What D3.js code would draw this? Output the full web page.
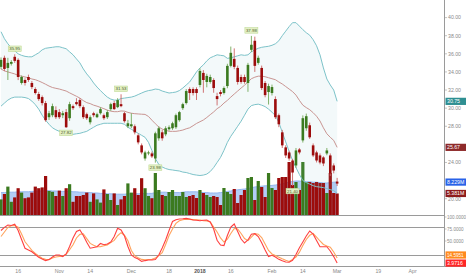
<!DOCTYPE html>
<html lang="en">
<head>
<meta charset="utf-8">
<title>Daily candles with Bollinger bands, volume and stochastic</title>
<script src="https://d3js.org/d3.v7.min.js"></script>
<style>
    body { margin: 0; background: #fff; }
    svg { display: block; font-family: "Liberation Sans", Arial, sans-serif; }
</style>
</head>
<body>
<svg id="chart" width="466" height="275"></svg>
<script>
// bar index 0 = first visible session (Oct 9 2017), future bars keep counting weekdays
const tickIndex = [5, 17, 26, 38, 49, 58, 67, 79, 88, 98, 110, 120]
const tickLabels = ["16", "Nov", "14", "Dec", "18", "2018", "16", "Feb", "14", "Mar", "19", "Apr"]

const opens = [34.56, 35.56, 34.44, 34.9, 35.67, 35.33, 32.78, 33.11, 33.44, 32.78,
    32.11, 31.56, 31.22, 30.56, 29.0, 29.22, 29.78, 29.56, 29.22, 29.56,
    28.89, 30.22, 30.67, 30.89, 30.11, 29.33, 28.44, 29.44, 29.0, 29.44,
    29.22, 29.0, 29.89, 30.56, 30.11, 30.44, 29.44, 28.0, 28.0, 28.0,
    27.0, 25.89, 24.44, 25.0, 25.0, 24.44, 26.67, 27.33, 27.11, 27.67,
    27.78, 27.89, 28.67, 30.0, 30.56, 32.11, 32.11, 32.11, 32.56, 33.89,
    32.89, 32.89, 33.11, 31.33, 31.78, 31.67, 32.44, 34.67, 35.44, 34.44,
    33.44, 33.44, 32.78, 36.44, 37.44, 35.0, 34.44, 32.78, 31.78, 31.67,
    31.0, 29.22, 27.33, 25.67, 25.11, 24.22, 23.67, 25.44, 26.44, 27.78,
    28.11, 25.89, 25.11, 24.78, 24.56, 25.0, 24.78, 23.67, 21.89]
const highs = [35.6, 35.8, 35.56, 35.3, 35.95, 35.5, 33.6, 33.3, 33.7, 33.0,
    32.3, 31.8, 31.4, 30.8, 29.7, 30.5, 30.2, 29.9, 29.7, 29.9,
    30.7, 30.4, 31.1, 31.1, 30.3, 29.5, 29.2, 29.6, 29.5, 30.1,
    29.4, 29.8, 30.6, 30.8, 31.1, 31.53, 29.6, 28.7, 29.44, 28.2,
    27.2, 26.1, 25.3, 25.3, 25.2, 27.4, 28.0, 27.6, 28.0, 28.1,
    28.5, 29.4, 29.7, 30.6, 32.1, 32.3, 32.3, 32.3, 34.4, 34.2,
    33.8, 33.7, 33.3, 31.7, 32.0, 32.4, 34.9, 36.8, 36.6, 34.7,
    33.7, 33.7, 35.0, 37.98, 37.9, 35.8, 34.7, 33.0, 32.7, 32.6,
    31.3, 29.4, 27.6, 25.9, 25.3, 24.4, 25.6, 25.6, 29.2, 29.4,
    28.4, 26.1, 25.3, 25.0, 24.7, 25.6, 25.0, 23.9, 22.3]
const lows = [34.3, 34.1, 33.11, 34.7, 35.0, 33.1, 32.6, 32.5, 32.9, 32.1,
    31.5, 30.8, 30.3, 28.5, 28.7, 29.0, 28.8, 28.8, 28.9, 27.82,
    28.6, 29.8, 30.3, 30.0, 28.8, 28.7, 28.2, 29.0, 28.9, 29.3,
    28.7, 28.8, 29.7, 29.8, 30.0, 30.1, 28.4, 27.8, 27.8, 27.1,
    26.0, 24.9, 24.2, 24.8, 24.5, 23.98, 26.4, 26.4, 26.9, 27.5,
    27.6, 27.7, 28.5, 29.8, 30.4, 30.9, 31.4, 30.9, 32.3, 31.7,
    32.3, 32.7, 31.7, 30.3, 31.3, 31.5, 32.2, 34.5, 34.3, 32.6,
    32.7, 32.7, 31.8, 36.2, 34.0, 34.8, 32.0, 31.2, 30.4, 31.4,
    28.8, 27.9, 25.6, 24.5, 24.2, 21.4, 23.4, 24.9, 26.2, 27.5,
    26.6, 24.6, 24.0, 23.8, 23.6, 24.8, 22.5, 22.8, 21.4]
const closes = [35.33, 34.33, 35.0, 35.1, 35.22, 33.44, 33.44, 32.78, 33.11, 32.33,
    31.67, 31.0, 30.56, 28.67, 29.44, 30.22, 29.0, 29.0, 29.44, 27.89,
    30.44, 30.0, 30.44, 30.22, 29.0, 28.89, 29.0, 29.22, 29.33, 29.89,
    28.89, 29.56, 30.44, 29.89, 30.89, 30.22, 28.56, 28.33, 28.22, 27.33,
    26.22, 25.11, 25.11, 25.11, 24.67, 27.22, 27.78, 26.67, 27.78, 27.89,
    28.33, 29.22, 29.56, 30.44, 31.89, 31.67, 31.67, 31.67, 34.11, 33.11,
    33.56, 33.44, 32.22, 31.0, 31.56, 32.22, 34.67, 36.11, 34.56, 32.89,
    32.89, 32.89, 34.78, 37.0, 34.67, 35.56, 32.22, 31.44, 32.44, 32.33,
    29.0, 28.22, 25.89, 24.78, 24.44, 22.89, 25.33, 25.11, 28.89, 29.11,
    26.78, 24.78, 24.22, 24.0, 23.89, 25.33, 22.78, 23.11, 21.67]

// volume in millions
const volumes = [3.9, 5.25, 7.1, 3.3, 4.4, 6.7, 5.6, 4.2, 4.4, 5.6,
    7.1, 6.7, 6.9, 9.75, 6.0, 5.8, 4.75, 6.1, 4.75, 6.7,
    7.7, 3.3, 4.75, 4.75, 5.0, 5.6, 3.3, 5.4, 3.9, 3.1,
    6.4, 5.25, 3.75, 5.4, 2.5, 3.9, 4.75, 7.9, 5.6, 6.7,
    5.0, 9.2, 6.7, 4.75, 4.2, 10.5, 6.25, 5.0, 4.75, 5.75,
    6.25, 4.75, 4.75, 5.75, 4.5, 4.75, 5.0, 4.25, 6.25, 5.5,
    5.0, 4.5, 4.75, 4.5, 2.5, 6.75, 5.75, 5.25, 6.5, 3.0,
    5.0, 6.25, 9.25, 9.5, 3.75, 8.5, 7.0, 4.5, 10.5, 6.75,
    6.25, 9.25, 9.5, 9.5, 13.25, 7.5, 8.25, 6.25, 13.25, 8.25,
    8.25, 8.0, 8.25, 8.0, 8.0, 5.5, 10.5, 5.5, 5.381]
const volumeMA = [5.6, 5.6, 5.7, 5.7, 5.7, 5.8, 5.8, 5.8, 5.8, 5.9,
    5.9, 6.0, 6.0, 6.1, 6.1, 6.0, 6.0, 5.9, 5.9, 5.9,
    5.9, 5.8, 5.8, 5.7, 5.7, 5.6, 5.6, 5.5, 5.5, 5.4,
    5.4, 5.3, 5.3, 5.2, 5.2, 5.2, 5.2, 5.3, 5.3, 5.3,
    5.3, 5.4, 5.4, 5.4, 5.4, 5.6, 5.7, 5.7, 5.7, 5.6,
    5.6, 5.6, 5.6, 5.7, 5.8, 5.8, 5.8, 5.8, 5.7, 5.6,
    5.6, 5.5, 5.5, 5.5, 5.6, 5.7, 5.9, 6.0, 6.2, 6.3,
    6.4, 6.5, 6.6, 6.8, 7.0, 7.1, 7.2, 7.3, 7.3, 7.4,
    7.5, 7.6, 7.8, 8.0, 8.2, 8.4, 8.5, 8.5, 8.4, 8.3,
    8.3, 8.2, 8.2, 8.1, 8.0, 8.0, 8.1, 8.2, 8.229]

// Bollinger bands (20, 2)
const bbUpper = [38.44, 37.67, 37.11, 36.67, 36.33, 36.0, 35.83, 35.72, 35.67, 35.67,
    35.89, 36.11, 36.44, 36.61, 36.67, 36.72, 36.78, 36.78, 36.67, 36.56,
    36.22, 35.89, 35.44, 35.0, 34.33, 33.78, 33.33, 32.78, 32.33, 31.94,
    31.56, 31.22, 31.0, 30.89, 30.89, 31.06, 31.11, 31.17, 31.22, 31.33,
    31.5, 31.67, 31.83, 31.94, 32.0, 32.11, 32.06, 31.89, 31.78, 31.67,
    31.72, 31.78, 31.94, 32.22, 32.56, 32.89, 33.44, 34.0, 34.44, 34.78,
    35.22, 35.56, 35.72, 35.89, 35.83, 35.78, 35.5, 35.56, 35.67, 35.78,
    35.89, 35.83, 35.89, 36.22, 36.44, 36.61, 36.72, 36.78, 36.83, 36.94,
    37.11, 37.44, 38.0, 38.5, 39.0, 39.44, 39.44, 39.06, 38.67, 38.33,
    38.06, 37.56, 36.89, 35.89, 34.44, 33.22, 32.56, 32.0, 30.75]
const bbBasis = [34.33, 34.11, 34.0, 33.89, 33.78, 33.61, 33.53, 33.44, 33.36, 33.22,
    33.14, 33.0, 32.83, 32.64, 32.44, 32.28, 32.19, 32.11, 32.0, 31.89,
    31.69, 31.5, 31.31, 31.11, 30.83, 30.61, 30.5, 30.33, 30.22, 30.08,
    29.94, 29.78, 29.67, 29.61, 29.61, 29.69, 29.67, 29.53, 29.44, 29.39,
    29.36, 29.33, 29.31, 29.08, 28.67, 28.28, 27.92, 27.69, 27.56, 27.44,
    27.44, 27.44, 27.5, 27.58, 27.72, 27.83, 28.06, 28.31, 28.5, 28.69,
    28.97, 29.28, 29.58, 29.94, 30.19, 30.56, 30.86, 31.22, 31.56, 31.89,
    32.22, 32.53, 32.89, 33.25, 33.42, 33.53, 33.53, 33.47, 33.36, 33.25,
    33.14, 32.89, 32.67, 32.39, 32.11, 31.83, 31.44, 30.86, 30.33, 30.06,
    29.83, 29.5, 29.11, 28.58, 27.83, 27.17, 26.78, 26.44, 25.67]
const bbLower = [30.22, 30.56, 30.89, 31.11, 31.22, 31.22, 31.22, 31.17, 31.06, 30.78,
    30.39, 29.89, 29.22, 28.67, 28.22, 27.83, 27.61, 27.44, 27.33, 27.22,
    27.17, 27.11, 27.17, 27.22, 27.33, 27.44, 27.67, 27.89, 28.11, 28.22,
    28.33, 28.33, 28.33, 28.33, 28.33, 28.33, 28.22, 27.89, 27.67, 27.44,
    27.22, 27.0, 26.78, 26.22, 25.33, 24.44, 23.78, 23.5, 23.33, 23.22,
    23.17, 23.11, 23.06, 22.94, 22.89, 22.78, 22.67, 22.61, 22.56, 22.61,
    22.72, 23.0, 23.44, 24.0, 24.56, 25.33, 26.22, 26.89, 27.44, 28.0,
    28.56, 29.22, 29.89, 30.28, 30.39, 30.44, 30.33, 30.17, 29.89, 29.56,
    29.17, 28.44, 27.33, 26.28, 25.22, 24.22, 23.44, 22.67, 22.0, 21.78,
    21.61, 21.44, 21.33, 21.28, 21.22, 21.11, 21.0, 20.89, 20.59]

// Stochastic (14, 3, 3)
const stochK = [71.9, 78.5, 83.3, 82.3, 84.8, 71.9, 53.1, 34.8, 31.3, 27.7,
    21.9, 16.3, 12.5, 9.2, 11.3, 16.7, 20.8, 20.8, 17.7, 22.9,
    38.5, 56.3, 69.8, 72.9, 61.5, 47.5, 35.0, 36.5, 38.1, 44.8,
    42.1, 43.8, 47.9, 59.4, 76.5, 72.9, 60.4, 38.5, 20.8, 15.4,
    12.5, 7.5, 9.2, 10.4, 10.4, 11.5, 20.8, 35.4, 52.1, 71.9,
    90.6, 94.2, 95.8, 96.3, 97.1, 95.8, 93.8, 93.1, 92.3, 93.1,
    93.8, 89.6, 75.0, 51.5, 41.7, 40.6, 61.5, 79.2, 85.4, 69.8,
    54.2, 45.8, 52.1, 64.0, 65.2, 59.4, 46.5, 31.3, 17.7, 20.2,
    16.7, 11.7, 8.8, 6.3, 5.8, 9.8, 21.7, 35.8, 47.9, 60.4,
    70.8, 64.2, 51.0, 38.1, 38.1, 38.1, 29.2, 17.5, 3.9716]
const stochD = [59.4, 68.8, 78.1, 81.7, 82.3, 78.8, 64.6, 48.5, 39.6, 30.6,
    24.2, 19.0, 14.0, 11.7, 11.3, 14.4, 16.5, 17.7, 18.3, 22.1,
    31.7, 42.3, 56.3, 63.8, 65.0, 55.0, 45.0, 41.0, 37.9, 38.3,
    40.0, 41.9, 46.7, 51.3, 61.0, 67.3, 62.1, 50.6, 30.2, 19.0,
    15.0, 11.7, 10.8, 11.5, 11.7, 14.4, 19.8, 25.6, 42.7, 61.3,
    75.0, 86.7, 92.1, 94.2, 95.2, 95.0, 94.6, 94.2, 93.8, 92.5,
    91.5, 89.6, 79.2, 68.8, 56.3, 47.9, 53.8, 65.6, 76.0, 75.0,
    65.6, 55.2, 50.8, 58.3, 65.6, 64.2, 57.3, 43.8, 30.2, 22.9,
    19.6, 16.3, 12.9, 9.8, 7.5, 11.7, 16.7, 26.7, 40.8, 53.1,
    61.9, 65.6, 58.1, 50.0, 42.7, 39.6, 37.1, 27.1, 14.5951]

// swing high / low markers
const pivotIndex = [4, 19, 35, 45, 73, 85]
const pivotType = ["high", "low", "high", "low", "high", "low"]

const priceTicks = [20, 22, 24, 26, 28, 30, 32, 34, 36, 38, 40]
const stochTicks = [25, 50, 75, 100]
const stochBands = [20, 80]

const green = "#3b7a1f", red = "#9c0c0c"
const axisX = 444.5

const svg = d3.select("#chart")

const x = d3.scaleLinear().domain([0, 120]).range([1, 412.6])
const y = d3.scaleLinear().domain([20, 40]).range([198.7, 17.6])
const yVol = d3.scaleLinear().domain([0, 10]).range([215, 175])
const yStoch = d3.scaleLinear().domain([0, 100]).range([265, 217])

const defs = svg.append("defs")
defs.append("clipPath").attr("id", "clip-main")
    .append("rect").attr("x", 0).attr("y", 0).attr("width", axisX).attr("height", 215)
defs.append("clipPath").attr("id", "clip-stoch")
    .append("rect").attr("x", 0).attr("y", 216).attr("width", axisX).attr("height", 50)

const main = svg.append("g").attr("clip-path", "url(#clip-main)")
const idx = d3.range(closes.length)

// volume moving average, drawn behind the bars
main.append("path")
    .attr("d", d3.area().x((d, i) => x(i)).y0(yVol(0)).y1(d => yVol(d))(volumeMA))
    .attr("fill", "#b3cdf6")
main.append("path")
    .attr("d", d3.line().x((d, i) => x(i)).y(d => yVol(d))(volumeMA))
    .attr("fill", "none").attr("stroke", "#93b5ef").attr("stroke-width", 1)

main.selectAll("rect.vol").data(idx).join("rect")
    .attr("class", "vol")
    .attr("x", i => x(i) - 1.6)
    .attr("width", 3.2)
    .attr("y", i => yVol(volumes[i]))
    .attr("height", i => yVol(0) - yVol(volumes[i]))
    .attr("fill", i => closes[i] >= opens[i] ? green : red)

// Bollinger bands
main.append("path")
    .attr("d", d3.area().x((d, i) => x(i)).y0((d, i) => y(bbLower[i])).y1(d => y(d))(bbUpper))
    .attr("fill", "rgb(120,190,200)").attr("fill-opacity", 0.09)
const bbLine = d3.line().x((d, i) => x(i)).y(d => y(d))
main.append("path").attr("d", bbLine(bbBasis))
    .attr("fill", "none").attr("stroke", "#c99592").attr("stroke-width", 1)
main.append("path").attr("d", bbLine(bbUpper))
    .attr("fill", "none").attr("stroke", "#7dc3c9").attr("stroke-width", 1)
main.append("path").attr("d", bbLine(bbLower))
    .attr("fill", "none").attr("stroke", "#7dc3c9").attr("stroke-width", 1)

// candles
main.selectAll("line.wick").data(idx).join("line")
    .attr("class", "wick")
    .attr("x1", i => x(i)).attr("x2", i => x(i))
    .attr("y1", i => y(highs[i])).attr("y2", i => y(lows[i]))
    .attr("stroke", i => closes[i] >= opens[i] ? "#74a95a" : "#cc6464")
    .attr("stroke-width", 0.9)
main.selectAll("rect.body").data(idx).join("rect")
    .attr("class", "body")
    .attr("x", i => x(i) - 1.3)
    .attr("width", 2.6)
    .attr("y", i => y(Math.max(opens[i], closes[i])))
    .attr("height", i => Math.max(1, Math.abs(y(opens[i]) - y(closes[i]))))
    .attr("fill", i => closes[i] >= opens[i] ? green : red)

// swing labels, box sized to the text
pivotIndex.forEach((pi, k) => {
    const isHigh = pivotType[k] === "high"
    const v = isHigh ? highs[pi] : lows[pi]
    const cy = isHigh ? y(v) - 5.5 : y(v) + 5
    const g = main.append("g").attr("transform", `translate(${x(pi)},${cy})`)
    const box = g.append("rect")
    const t = g.append("text").attr("text-anchor", "middle").attr("dy", "0.35em")
        .attr("font-size", 4.4).attr("fill", "#4b5b2b").text(v.toFixed(2))
    const w = t.node().getComputedTextLength() + 2
    box.attr("x", -w / 2).attr("y", -2.8).attr("width", w).attr("height", 5.6)
        .attr("fill", "#e3f0c4").attr("stroke", "#b9d68e").attr("stroke-width", 0.5)
})

// stochastic pane
const stoch = svg.append("g").attr("clip-path", "url(#clip-stoch)")
stoch.selectAll("line.band").data(stochBands).join("line")
    .attr("x1", 0).attr("x2", axisX)
    .attr("y1", d => Math.round(yStoch(d)) + 0.5).attr("y2", d => Math.round(yStoch(d)) + 0.5)
    .attr("stroke", "#9a9a9a").attr("stroke-width", 1)
const stLine = d3.line().x((d, i) => x(i)).y(d => yStoch(d))
stoch.append("path").attr("d", stLine(stochD))
    .attr("fill", "none").attr("stroke", "#ffa35c").attr("stroke-width", 1.1)
stoch.append("path").attr("d", stLine(stochK))
    .attr("fill", "none").attr("stroke", "#ff4040").attr("stroke-width", 1.1)

// frame lines
svg.append("line").attr("x1", 0).attr("x2", axisX).attr("y1", 215.5).attr("y2", 215.5)
    .attr("stroke", "#9a9a9a")
svg.append("line").attr("x1", 0).attr("x2", 466).attr("y1", 266.5).attr("y2", 266.5)
    .attr("stroke", "#9a9a9a")
svg.append("line").attr("x1", axisX).attr("x2", axisX).attr("y1", 0).attr("y2", 266.5)
    .attr("stroke", "#9a9a9a")

// last value tags
const last = closes.length - 1
const priceTags = [
    { v: y(bbUpper[last]), text: bbUpper[last].toFixed(2), color: "#2f8f92" },
    { v: y(bbBasis[last]), text: bbBasis[last].toFixed(2), color: "#8e2a2a" },
    { v: yVol(volumeMA[last]), text: volumeMA[last].toFixed(3) + "M", color: "#2962e8" },
    { v: yVol(volumes[last]), text: volumes[last].toFixed(3) + "M", color: "#8e1c1c" }
]
const stochTags = [
    { v: yStoch(stochD[last]) - 3, text: stochD[last].toFixed(4), color: "#ff8a1e" },
    { v: yStoch(stochK[last]), text: stochK[last].toFixed(4), color: "#ff2626" }
]
const clear = (tags, v) => tags.every(t => Math.abs(t.v - v) > 5)

// right price axis (ticks hidden where a tag sits on them)
const axisFont = 5.2
const pTicks = priceTicks.filter(d => clear(priceTags, y(d)))
const priceAxis = svg.append("g")
priceAxis.selectAll("line").data(pTicks).join("line")
    .attr("x1", axisX).attr("x2", axisX + 2.5)
    .attr("y1", d => y(d)).attr("y2", d => y(d)).attr("stroke", "#9a9a9a").attr("stroke-width", 0.6)
priceAxis.selectAll("text").data(pTicks).join("text")
    .attr("x", axisX + 3.5).attr("y", d => y(d)).attr("dy", "0.35em")
    .attr("font-size", axisFont).attr("fill", "#8a8a8a").text(d => d.toFixed(2))

const sTicks = stochTicks.filter(d => clear(stochTags, yStoch(d)))
const stochAxis = svg.append("g")
stochAxis.selectAll("line").data(sTicks).join("line")
    .attr("x1", axisX).attr("x2", axisX + 2)
    .attr("y1", d => yStoch(d)).attr("y2", d => yStoch(d)).attr("stroke", "#9a9a9a").attr("stroke-width", 0.6)
stochAxis.selectAll("text").data(sTicks).join("text")
    .attr("x", axisX + 2.5).attr("y", d => yStoch(d) + 0.5).attr("dy", "0.35em")
    .attr("font-size", 4.6).attr("fill", "#8a8a8a").text(d => d.toFixed(4))

const tagG = svg.append("g")
priceTags.concat(stochTags).forEach(t => {
    tagG.append("rect").attr("x", axisX + 1).attr("y", t.v - 3.6)
        .attr("width", 21).attr("height", 7.2).attr("fill", t.color)
    tagG.append("text").attr("x", axisX + 2.5).attr("y", t.v).attr("dy", "0.35em")
        .attr("font-size", t.text.length > 6 ? 4.6 : axisFont).attr("fill", "#fff").text(t.text)
})

// time axis
svg.append("g").selectAll("text").data(tickIndex).join("text")
    .attr("x", i => x(i)).attr("y", 271).attr("dy", "0.35em")
    .attr("text-anchor", "middle").attr("font-size", axisFont)
    .attr("font-weight", (d, k) => tickLabels[k] === "2018" ? "bold" : "normal")
    .attr("fill", (d, k) => tickLabels[k] === "2018" ? "#555" : "#8a8a8a")
    .text((d, k) => tickLabels[k])
</script>
</body>
</html>
